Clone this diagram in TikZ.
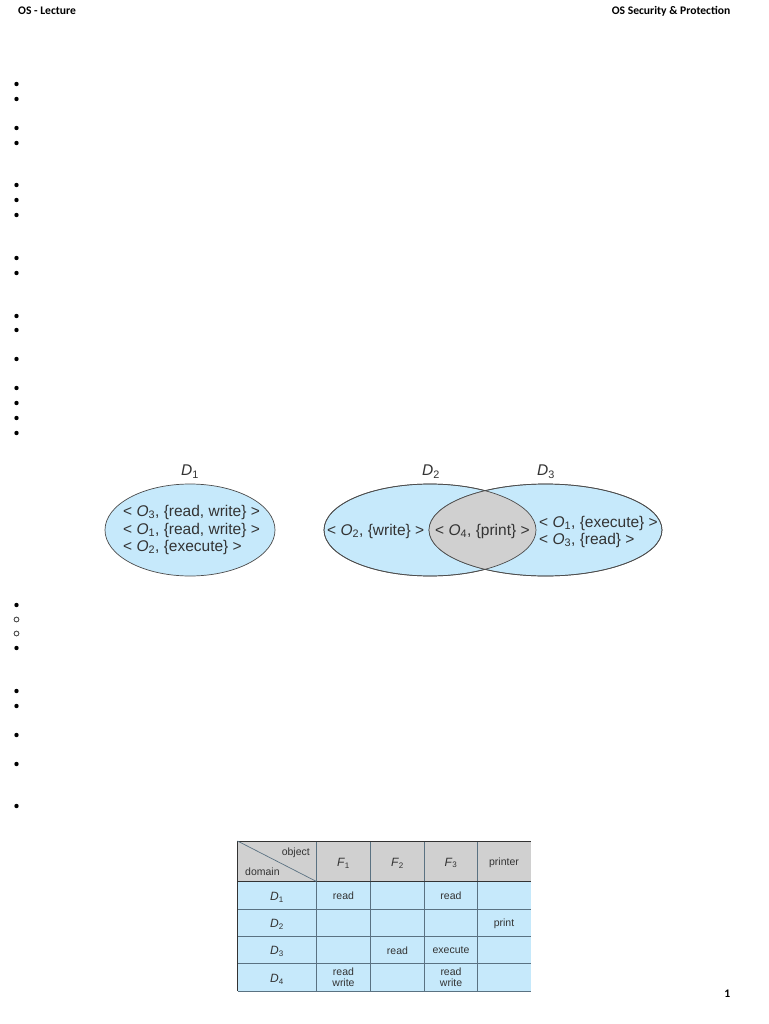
\documentclass[tikz,border=0pt]{standalone}
\usepackage{fontspec}
\setmainfont{Liberation Sans}
\newfontfamily\headfont{Carlito}
\newcommand{\objname}[2]{\textit{#1}\textsubscript{#2}}
\definecolor{domainblue}{HTML}{C6E9FB}
\definecolor{lensgray}{HTML}{D0D0D0}
\definecolor{inkgray}{HTML}{333333}
\definecolor{gridblue}{HTML}{5A7282}
\tikzset{
  pagehead/.style={font=\headfont\bfseries\fontsize{11.6}{13}\selectfont, text=black, inner sep=0pt},
  domaintag/.style={font=\fontsize{15.5}{17}\selectfont, text=inkgray, inner sep=0pt},
  pairtext/.style={font=\fontsize{15.5}{17}\selectfont, text=inkgray, inner sep=0pt, anchor=west},
  celltext/.style={font=\fontsize{10.5}{11.5}\selectfont, text=inkgray, inner sep=0pt, align=center},
  celltag/.style={font=\fontsize{12}{13}\selectfont, text=inkgray, inner sep=0pt},
  dot/.style={fill=black},
  ringdot/.style={draw=black!70, line width=0.9pt},
  rim/.style={draw=black!70, line width=0.7pt},
  gridline/.style={draw=gridblue, line width=0.7pt},
  gridbold/.style={draw=inkgray, line width=1pt}
}
\begin{document}
\begin{tikzpicture}[x=1pt, y=-1pt]
  \useasboundingbox (0, 0) rectangle (768, 1024);
  \fill[white] (0, 0) rectangle (768, 1024);
  \node[pagehead, anchor=west] (headleft) at (18, 11) {OS - Lecture};
  \node[pagehead, anchor=east] (headright) at (730.5, 11) {OS Security \& Protection};
  \node[pagehead, anchor=east] (pagenum) at (730.5, 993.5) {1};

  \fill[dot] (16.5, 84) circle (2.2);
  \fill[dot] (16.5, 99) circle (2.2);
  \fill[dot] (16.5, 128) circle (2.2);
  \fill[dot] (16.5, 143) circle (2.2);
  \fill[dot] (16.5, 185) circle (2.2);
  \fill[dot] (16.5, 200) circle (2.2);
  \fill[dot] (16.5, 215) circle (2.2);
  \fill[dot] (16.5, 258) circle (2.2);
  \fill[dot] (16.5, 273) circle (2.2);
  \fill[dot] (16.5, 316) circle (2.2);
  \fill[dot] (16.5, 330) circle (2.2);
  \fill[dot] (16.5, 359) circle (2.2);
  \fill[dot] (16.5, 388) circle (2.2);
  \fill[dot] (16.5, 403) circle (2.2);
  \fill[dot] (16.5, 418) circle (2.2);
  \fill[dot] (16.5, 433) circle (2.2);
  \fill[dot] (16.5, 605) circle (2.2);
  \draw[ringdot] (16.5, 619.5) circle (2.4);
  \draw[ringdot] (16.5, 633.5) circle (2.4);
  \fill[dot] (16.5, 648) circle (2.2);
  \fill[dot] (16.5, 691) circle (2.2);
  \fill[dot] (16.5, 706) circle (2.2);
  \fill[dot] (16.5, 735) circle (2.2);
  \fill[dot] (16.5, 764) circle (2.2);
  \fill[dot] (16.5, 806) circle (2.2);

  \draw[rim, fill=domainblue] (190, 530) ellipse (85 and 46);
  \draw[rim, fill=domainblue] (430, 530) ellipse (106 and 46);
  \draw[rim, fill=domainblue] (545.5, 530) ellipse (116.5 and 46);
  \begin{scope}
    \clip (430, 530) ellipse (106 and 46);
    \fill[lensgray] (545.5, 530) ellipse (116.5 and 46);
  \end{scope}
  \draw[rim] (430, 530) ellipse (106 and 46);
  \draw[rim] (545.5, 530) ellipse (116.5 and 46);

  \node[domaintag] (tagone) at (190, 471.5) {\objname{D}{1}};
  \node[domaintag] (tagtwo) at (431, 471.5) {\objname{D}{2}};
  \node[domaintag] (tagthree) at (546, 471.5) {\objname{D}{3}};
  \node[pairtext] (pairthree) at (123, 512) {< \objname{O}{3}, \{read, write\} >};
  \node[pairtext] (pairone) at (123, 530) {< \objname{O}{1}, \{read, write\} >};
  \node[pairtext] (pairtwo) at (123, 547) {< \objname{O}{2}, \{execute\} >};
  \node[pairtext] (pairwrite) at (327, 531) {< \objname{O}{2}, \{write\} >};
  \node[pairtext] (pairprint) at (435, 531) {< \objname{O}{4}, \{print\} >};
  \node[pairtext] (pairexec) at (539, 523) {< \objname{O}{1}, \{execute\} >};
  \node[pairtext] (pairread) at (539, 540) {< \objname{O}{3}, \{read\} >};

  \fill[lensgray] (237.5, 841) rectangle (530.5, 881.5);
  \fill[domainblue] (237.5, 881.5) rectangle (530.5, 991);
  \draw[gridline] (237.5, 909) -- (530.5, 909);
  \draw[gridline] (237.5, 936) -- (530.5, 936);
  \draw[gridline] (237.5, 963.5) -- (530.5, 963.5);
  \draw[gridline] (237.5, 991) -- (530.5, 991);
  \draw[gridline] (316.5, 841) -- (316.5, 991);
  \draw[gridline] (370.5, 841) -- (370.5, 991);
  \draw[gridline] (424, 841) -- (424, 991);
  \draw[gridline] (477.5, 841) -- (477.5, 991);
  \draw[gridbold] (237.5, 841) -- (530.5, 841);
  \draw[gridbold] (237.5, 881.5) -- (530.5, 881.5);
  \draw[gridbold] (237.5, 841) -- (237.5, 991);
  \draw[gridline] (237.5, 841) -- (316.5, 881.5);

  \node[celltext, anchor=east] (cellobject) at (310, 853) {object};
  \node[celltext, anchor=west] (celldomain) at (245, 872) {domain};
  \node[celltag] (headfone) at (343.5, 863) {\objname{F}{1}};
  \node[celltag] (headftwo) at (397.5, 863) {\objname{F}{2}};
  \node[celltag] (headfthree) at (451, 863) {\objname{F}{3}};
  \node[celltext] (headprinter) at (504, 863) {printer};
  \node[celltag] (rowone) at (277, 897) {\objname{D}{1}};
  \node[celltag] (rowtwo) at (277, 924) {\objname{D}{2}};
  \node[celltag] (rowthree) at (277, 951) {\objname{D}{3}};
  \node[celltag] (rowfour) at (277, 979) {\objname{D}{4}};
  \node[celltext] (onefone) at (343.5, 896) {read};
  \node[celltext] (onefthree) at (451, 896) {read};
  \node[celltext] (twoprint) at (504, 923.5) {print};
  \node[celltext] (threeftwo) at (397.5, 950.5) {read};
  \node[celltext] (threefthree) at (451, 950.5) {execute};
  \node[celltext] (fourfone) at (343.5, 977) {read\\write};
  \node[celltext] (fourfthree) at (451, 977) {read\\write};
\end{tikzpicture}
\end{document}
